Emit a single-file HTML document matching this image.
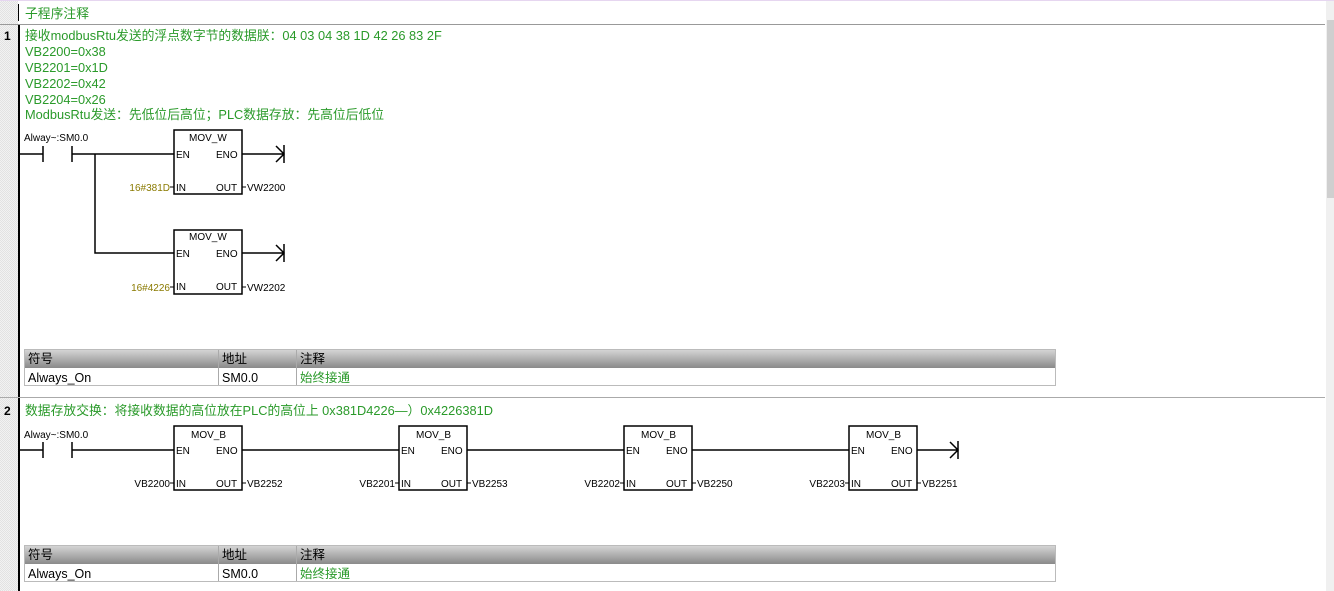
<!DOCTYPE html>
<html><head><meta charset="utf-8"><style>
body{margin:0;width:1334px;height:591px;overflow:hidden;background:#fff}
svg{display:block}
text{font-family:"Liberation Sans","Noto Sans CJK SC",sans-serif}
</style></head><body>
<svg width="1334" height="591" viewBox="0 0 1334 591" xmlns="http://www.w3.org/2000/svg">
<defs>
<pattern id="chk" width="2" height="2" patternUnits="userSpaceOnUse"><rect width="2" height="2" fill="#f2f2f2"/><rect width="1" height="1" fill="#e2e2e2"/><rect x="1" y="1" width="1" height="1" fill="#e2e2e2"/></pattern>
<linearGradient id="hg" x1="0" y1="0" x2="0" y2="1"><stop offset="0" stop-color="#d4d4d4"/><stop offset="1" stop-color="#8a8a8a"/></linearGradient>
<g id="arrow"><path d="M0 0 L12 0 M4 -8 L12 0 L4 8 M12 -9 L12 9" stroke="#000" stroke-width="1.5" fill="none"/></g>
</defs>
<rect x="0" y="0" width="1334" height="1" fill="#e6d6f0"/>
<rect x="0" y="1" width="18" height="590" fill="url(#chk)"/>
<rect x="18" y="25" width="2" height="566" fill="#000"/>
<rect x="18" y="4" width="1" height="17" fill="#000"/>
<rect x="0" y="24" width="1325" height="1" fill="#999"/>
<rect x="0" y="397" width="1325" height="1" fill="#aaa"/>
<rect x="1326" y="1" width="8" height="590" fill="#f0f0f0"/>
<rect x="1327" y="20" width="7" height="178" fill="#cfcfcf"/>
<g font-size="12.8" fill="#2a9a2a">
<text x="25" y="18">子程序注释</text>
<text x="25" y="40">接收modbusRtu发送的浮点数字节的数据朕：04 03 04 38 1D 42 26  83 2F</text>
<text x="25" y="56">VB2200=0x38</text>
<text x="25" y="72">VB2201=0x1D</text>
<text x="25" y="88">VB2202=0x42</text>
<text x="25" y="104">VB2204=0x26</text>
<text x="25" y="119">ModbusRtu发送：先低位后高位；PLC数据存放：先高位后低位</text>
<text x="25" y="415">数据存放交换：将接收数据的高位放在PLC的高位上  0x381D4226—）0x4226381D</text>
</g>
<g font-size="12" font-weight="bold" fill="#000"><text x="4" y="40">1</text><text x="4" y="415">2</text></g>
<g font-size="10" fill="#000">
<text x="24" y="141">Alway~:SM0.0</text>
<text x="24" y="438">Alway~:SM0.0</text>
</g>
<g stroke="#000" stroke-width="1.5" fill="none">
<path d="M20 154 H43 M43 146 V162 M72 146 V162 M72 154 H174 M95 154 V253 H174"/>
<rect x="174" y="130" width="68" height="64"/>
<rect x="174" y="230" width="68" height="64"/>
<path d="M242 154 H272 M242 253 H272"/>
<path d="M170 187 H174 M242 187 H246 M170 287 H174 M242 287 H246" stroke-width="1"/>
<path d="M20 450 H43 M43 442 V458 M72 442 V458 M72 450 H174 M242 450 H399 M467 450 H624 M692 450 H849 M917 450 H946"/>
<rect x="174" y="426" width="68" height="64"/>
<rect x="399" y="426" width="68" height="64"/>
<rect x="624" y="426" width="68" height="64"/>
<rect x="849" y="426" width="68" height="64"/>
<path d="M170 483 H174 M242 483 H246 M395 483 H399 M467 483 H471 M620 483 H624 M692 483 H696 M845 483 H849 M917 483 H921" stroke-width="1"/>
</g>
<use href="#arrow" x="272" y="154"/><use href="#arrow" x="272" y="253"/><use href="#arrow" x="946" y="450"/>
<g font-size="10" fill="#000">
<g><text x="189" y="141">MOV_W</text><text x="176" y="158">EN</text><text x="216" y="158">ENO</text><text x="176" y="191">IN</text><text x="216" y="191">OUT</text></g>
<g transform="translate(0,99)"><text x="189" y="141">MOV_W</text><text x="176" y="158">EN</text><text x="216" y="158">ENO</text><text x="176" y="191">IN</text><text x="216" y="191">OUT</text></g>
<text x="247" y="191">VW2200</text><text x="247" y="291">VW2202</text>
<g fill="#8a7a00"><text x="170" y="191" text-anchor="end">16#381D</text><text x="170" y="291" text-anchor="end">16#4226</text></g>
<g id="mb"><text x="191" y="438">MOV_B</text><text x="176" y="454">EN</text><text x="216" y="454">ENO</text><text x="176" y="487">IN</text><text x="216" y="487">OUT</text></g>
<use href="#mb" x="225"/><use href="#mb" x="450"/><use href="#mb" x="675"/>
<text x="170" y="487" text-anchor="end">VB2200</text><text x="247" y="487">VB2252</text>
<text x="395" y="487" text-anchor="end">VB2201</text><text x="472" y="487">VB2253</text>
<text x="620" y="487" text-anchor="end">VB2202</text><text x="697" y="487">VB2250</text>
<text x="845" y="487" text-anchor="end">VB2203</text><text x="922" y="487">VB2251</text>
</g>
<g id="tbl">
<rect x="24.5" y="349.5" width="1031" height="36" fill="#fff" stroke="#bbb"/>
<rect x="25" y="350" width="1030" height="18" fill="url(#hg)"/>
<path d="M218.5 350 V385 M296.5 350 V385" stroke="#aaa"/>
<g font-size="12.5" fill="#000"><text x="28" y="363">符号</text><text x="222" y="363">地址</text><text x="300" y="363">注释</text>
<text x="28" y="382">Always_On</text><text x="222" y="382">SM0.0</text><text x="300" y="382" fill="#2a9a2a">始终接通</text></g>
</g>
<use href="#tbl" y="196"/>
</svg>
</body></html>
